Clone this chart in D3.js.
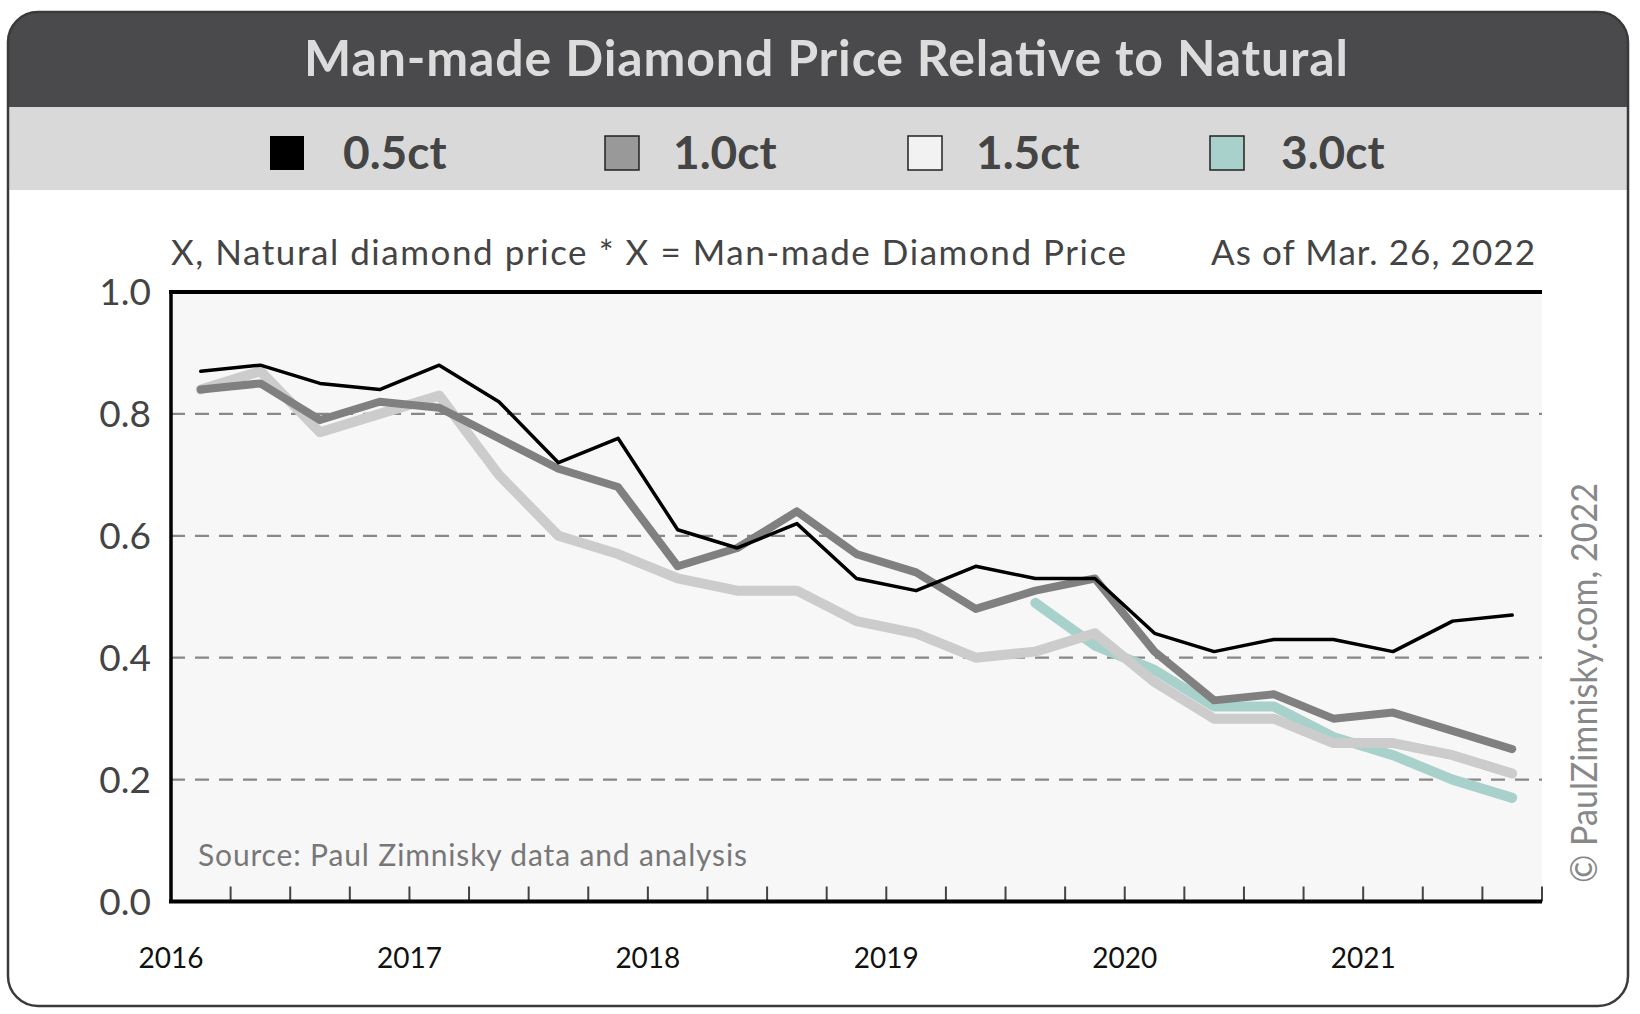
<!DOCTYPE html>
<html>
<head>
<meta charset="utf-8">
<script src="https://cdn.jsdelivr.net/npm/d3@7"></script>
<style>
  body { margin: 0; background: #fff; }
  svg { display: block; font-family: Lato, "Open Sans", sans-serif; }
</style>
</head>
<body>
<div id="chart"></div>
<script>
// quarterly points, 2016 Q1 .. 2021 Q3
var quarters = [];
[2016, 2017, 2018, 2019, 2020, 2021].forEach(function(yr) {
  ["Q1", "Q2", "Q3", "Q4"].forEach(function(q) { quarters.push(yr + " " + q); });
});
quarters = quarters.slice(0, 23);

var yearLabels = ["2016", "2017", "2018", "2019", "2020", "2021"];
var yTicks = [0, 0.2, 0.4, 0.6, 0.8, 1.0];
var gridTicks = [0.2, 0.4, 0.6, 0.8];

var ct05 = [0.87,0.88,0.85,0.84,0.88,0.82,0.72,0.76,0.61,0.58,0.62,0.53,0.51,0.55,0.53,0.53,0.44,0.41,0.43,0.43,0.41,0.46,0.47];
var ct10 = [0.84,0.85,0.79,0.82,0.81,0.76,0.71,0.68,0.55,0.58,0.64,0.57,0.54,0.48,0.51,0.53,0.41,0.33,0.34,0.30,0.31,0.28,0.25];
var ct15 = [0.84,0.87,0.77,0.80,0.83,0.70,0.60,0.57,0.53,0.51,0.51,0.46,0.44,0.40,0.41,0.44,0.36,0.30,0.30,0.26,0.26,0.24,0.21];
var ct30 = [null,null,null,null,null,null,null,null,null,null,null,null,null,null,0.49,0.42,0.38,0.32,0.32,0.27,0.24,0.20,0.17];

var seriesNames = ["0.5ct", "1.0ct", "1.5ct", "3.0ct"];

var W = 1640, H = 1014;
var svg = d3.select("#chart").append("svg")
    .attr("width", W)
    .attr("height", H);

// card with rounded corners
var card = {x: 8, y: 12, w: 1620, h: 994, r: 30};
svg.append("clipPath").attr("id", "cardClip")
  .append("rect")
    .attr("x", card.x).attr("y", card.y)
    .attr("width", card.w).attr("height", card.h)
    .attr("rx", card.r);

var bg = svg.append("g").attr("clip-path", "url(#cardClip)");
bg.append("rect").attr("x", card.x).attr("y", card.y).attr("width", card.w).attr("height", card.h).attr("fill", "#fff");
bg.append("rect").attr("x", card.x).attr("y", card.y).attr("width", card.w).attr("height", 95).attr("fill", "#4a4a4c");
bg.append("rect").attr("x", card.x).attr("y", 107).attr("width", card.w).attr("height", 83).attr("fill", "#d9d9d9");

svg.append("rect")
    .attr("x", card.x).attr("y", card.y)
    .attr("width", card.w).attr("height", card.h)
    .attr("rx", card.r)
    .attr("fill", "none")
    .attr("stroke", "#3a3a3a")
    .attr("stroke-width", 2.5);

// title
svg.append("text")
    .attr("x", 826).attr("y", 76)
    .attr("text-anchor", "middle")
    .attr("font-size", 50)
    .attr("font-weight", "bold")
    .attr("fill", "#dcdcdc")
    .attr("textLength", 1044)
    .attr("lengthAdjust", "spacing")
    .text("Man-made Diamond Price Relative to Natural");

// legend
var legendX = [270, 605, 908, 1210];
var legendTextX = [343, 673, 976, 1281];
var legendFill = ["#000000", "#999999", "#f2f2f2", "#a8d1cc"];
var legend = svg.append("g");
seriesNames.forEach(function(name, i) {
  legend.append("rect")
    .attr("x", legendX[i]).attr("y", 136)
    .attr("width", 34).attr("height", 34)
    .attr("fill", legendFill[i])
    .attr("stroke", i == 0 ? "none" : "#222")
    .attr("stroke-width", 1.5);
  legend.append("text")
    .attr("x", legendTextX[i]).attr("y", 169)
    .attr("font-size", 46)
    .attr("font-weight", "bold")
    .attr("fill", "#444")
    .text(name);
});

// plot area
var margin = {left: 171, right: 1542, top: 292, bottom: 901.5};

var x = d3.scaleBand()
    .domain(quarters)
    .range([margin.left, margin.right])
    .paddingInner(0).paddingOuter(0);

var y = d3.scaleLinear()
    .domain([0, 1])
    .range([margin.bottom, margin.top]);

svg.append("rect")
    .attr("x", margin.left).attr("y", margin.top)
    .attr("width", margin.right - margin.left)
    .attr("height", margin.bottom - margin.top)
    .attr("fill", "#f7f7f7");

// subtitles
svg.append("text")
    .attr("x", margin.left).attr("y", 265)
    .attr("font-size", 35)
    .attr("fill", "#444")
    .attr("textLength", 955)
    .attr("lengthAdjust", "spacing")
    .text("X, Natural diamond price * X = Man-made Diamond Price");

svg.append("text")
    .attr("x", 1535).attr("y", 265)
    .attr("text-anchor", "end")
    .attr("font-size", 35)
    .attr("fill", "#444")
    .attr("textLength", 324)
    .attr("lengthAdjust", "spacing")
    .text("As of Mar. 26, 2022");

// dashed gridlines
svg.append("g").selectAll("line")
  .data(gridTicks)
  .join("line")
    .attr("x1", margin.left).attr("x2", margin.right)
    .attr("y1", function(d) { return y(d); })
    .attr("y2", function(d) { return y(d); })
    .attr("stroke", "#888")
    .attr("stroke-width", 2.2)
    .attr("stroke-dasharray", "14,10");

// y labels
svg.append("g").selectAll("text")
  .data(yTicks)
  .join("text")
    .attr("x", 151)
    .attr("y", function(d) { return y(d); })
    .attr("dy", "0.36em")
    .attr("text-anchor", "end")
    .attr("font-size", 37)
    .attr("fill", "#444")
    .text(function(d) { return d3.format(".1f")(d); });

// source note
svg.append("text")
    .attr("x", 198).attr("y", 866)
    .attr("font-size", 30)
    .attr("fill", "#777")
    .attr("textLength", 549)
    .attr("lengthAdjust", "spacing")
    .text("Source: Paul Zimnisky data and analysis");

// x ticks on quarter boundaries
var boundaries = quarters.slice(1).map(function(q) { return x(q); }).concat([margin.right]);
svg.append("g").selectAll("line")
  .data(boundaries)
  .join("line")
    .attr("x1", function(d) { return d; }).attr("x2", function(d) { return d; })
    .attr("y1", margin.bottom).attr("y2", margin.bottom - 15)
    .attr("stroke", "#444")
    .attr("stroke-width", 2);

// year labels at each Q1 boundary
svg.append("g").selectAll("text")
  .data(yearLabels)
  .join("text")
    .attr("x", function(d) { return x(d + " Q1"); })
    .attr("y", 968)
    .attr("text-anchor", "middle")
    .attr("font-size", 28)
    .attr("fill", "#111")
    .text(function(d) { return d; });

// lines
var line = d3.line()
    .defined(function(d) { return d.v != null; })
    .x(function(d) { return x(d.q) + x.bandwidth() / 2; })
    .y(function(d) { return y(d.v); });

function toPts(arr) {
  return arr.map(function(v, i) { return {q: quarters[i], v: v}; });
}

var series = [
  {data: ct30, color: "#a8d1cc", width: 10},
  {data: ct15, color: "#cccccc", width: 10},
  {data: ct10, color: "#808080", width: 8},
  {data: ct05, color: "#000000", width: 3.5}
];

svg.append("g").selectAll("path")
  .data(series)
  .join("path")
    .attr("fill", "none")
    .attr("stroke", function(d) { return d.color; })
    .attr("stroke-width", function(d) { return d.width; })
    .attr("stroke-linecap", "round")
    .attr("stroke-linejoin", "round")
    .attr("d", function(d) { return line(toPts(d.data)); });

// frame: top, left, bottom
var frame = svg.append("g").attr("stroke", "#000").attr("fill", "none");
frame.append("line").attr("x1", margin.left - 2).attr("x2", margin.right)
  .attr("y1", margin.top).attr("y2", margin.top).attr("stroke-width", 4);
frame.append("line").attr("x1", margin.left).attr("x2", margin.left)
  .attr("y1", margin.top).attr("y2", margin.bottom).attr("stroke-width", 3.5);
frame.append("line").attr("x1", margin.left - 2).attr("x2", margin.right)
  .attr("y1", margin.bottom).attr("y2", margin.bottom).attr("stroke-width", 4);

// copyright
svg.append("text")
    .attr("transform", "translate(1597,683) rotate(-90)")
    .attr("text-anchor", "middle")
    .attr("font-size", 37)
    .attr("fill", "#888")
    .attr("textLength", 400)
    .attr("lengthAdjust", "spacingAndGlyphs")
    .text("\u00a9 PaulZimnisky.com, 2022");
</script>
</body>
</html>
